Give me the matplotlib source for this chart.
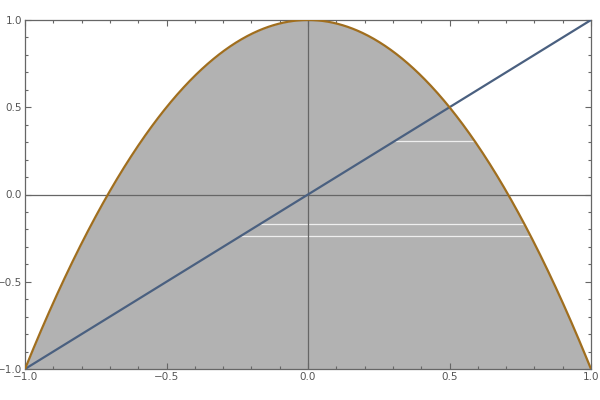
import numpy as np
import matplotlib.pyplot as plt
from matplotlib.ticker import MultipleLocator

# f(x) = 1 - 2x^2 and the diagonal y = x
x_grid = np.linspace(-1, 1, 801)
map_curve = 1 - 2 * x_grid ** 2
diag = x_grid

# white horizontal cobweb gaps (y level)
gap_levels = [0.305, -0.171, -0.240]

tick_vals = [-1.0, -0.5, 0.0, 0.5, 1.0]
tick_labels = ["\u22121.0", "\u22120.5", "0.0", "0.5", "1.0"]

fill_color = "#b2b2b2"
curve_color = "#a06e1e"
line_color = "#4a6080"
axis_color = "#666666"

fig = plt.figure(figsize=(6, 4), dpi=100)
ax = fig.add_axes([25 / 600, 31 / 400, 566 / 600, 349 / 400])

ax.fill_between(x_grid, map_curve, -1, color=fill_color, lw=0, zorder=1)
for y in gap_levels:
    x_end = np.sqrt((1 - y) / 2)
    ax.plot([y, x_end], [y, y], color="white", lw=0.9, alpha=0.8, zorder=2)

ax.axhline(0, color=axis_color, lw=0.9, zorder=3)
ax.axvline(0, color=axis_color, lw=0.9, zorder=3)
ax.plot(x_grid, diag, color=line_color, lw=1.6, zorder=4)
ax.plot(x_grid, map_curve, color=curve_color, lw=1.6, zorder=5)

ax.set_xlim(-1, 1)
ax.set_ylim(-1, 1)
ax.set_xticks(tick_vals)
ax.set_xticklabels(tick_labels)
ax.set_yticks(tick_vals)
ax.set_yticklabels(tick_labels)
ax.xaxis.set_minor_locator(MultipleLocator(0.1))
ax.yaxis.set_minor_locator(MultipleLocator(0.1))
ax.tick_params(which="both", direction="in", top=True, right=True,
               color=axis_color, width=0.8, labelcolor="#555555",
               labelsize=7.5, pad=2)
ax.tick_params(which="major", length=4)
ax.tick_params(which="minor", length=2.5)
for s in ax.spines.values():
    s.set_color(axis_color)
    s.set_linewidth(0.9)

fig.savefig("out.png", dpi=100)
